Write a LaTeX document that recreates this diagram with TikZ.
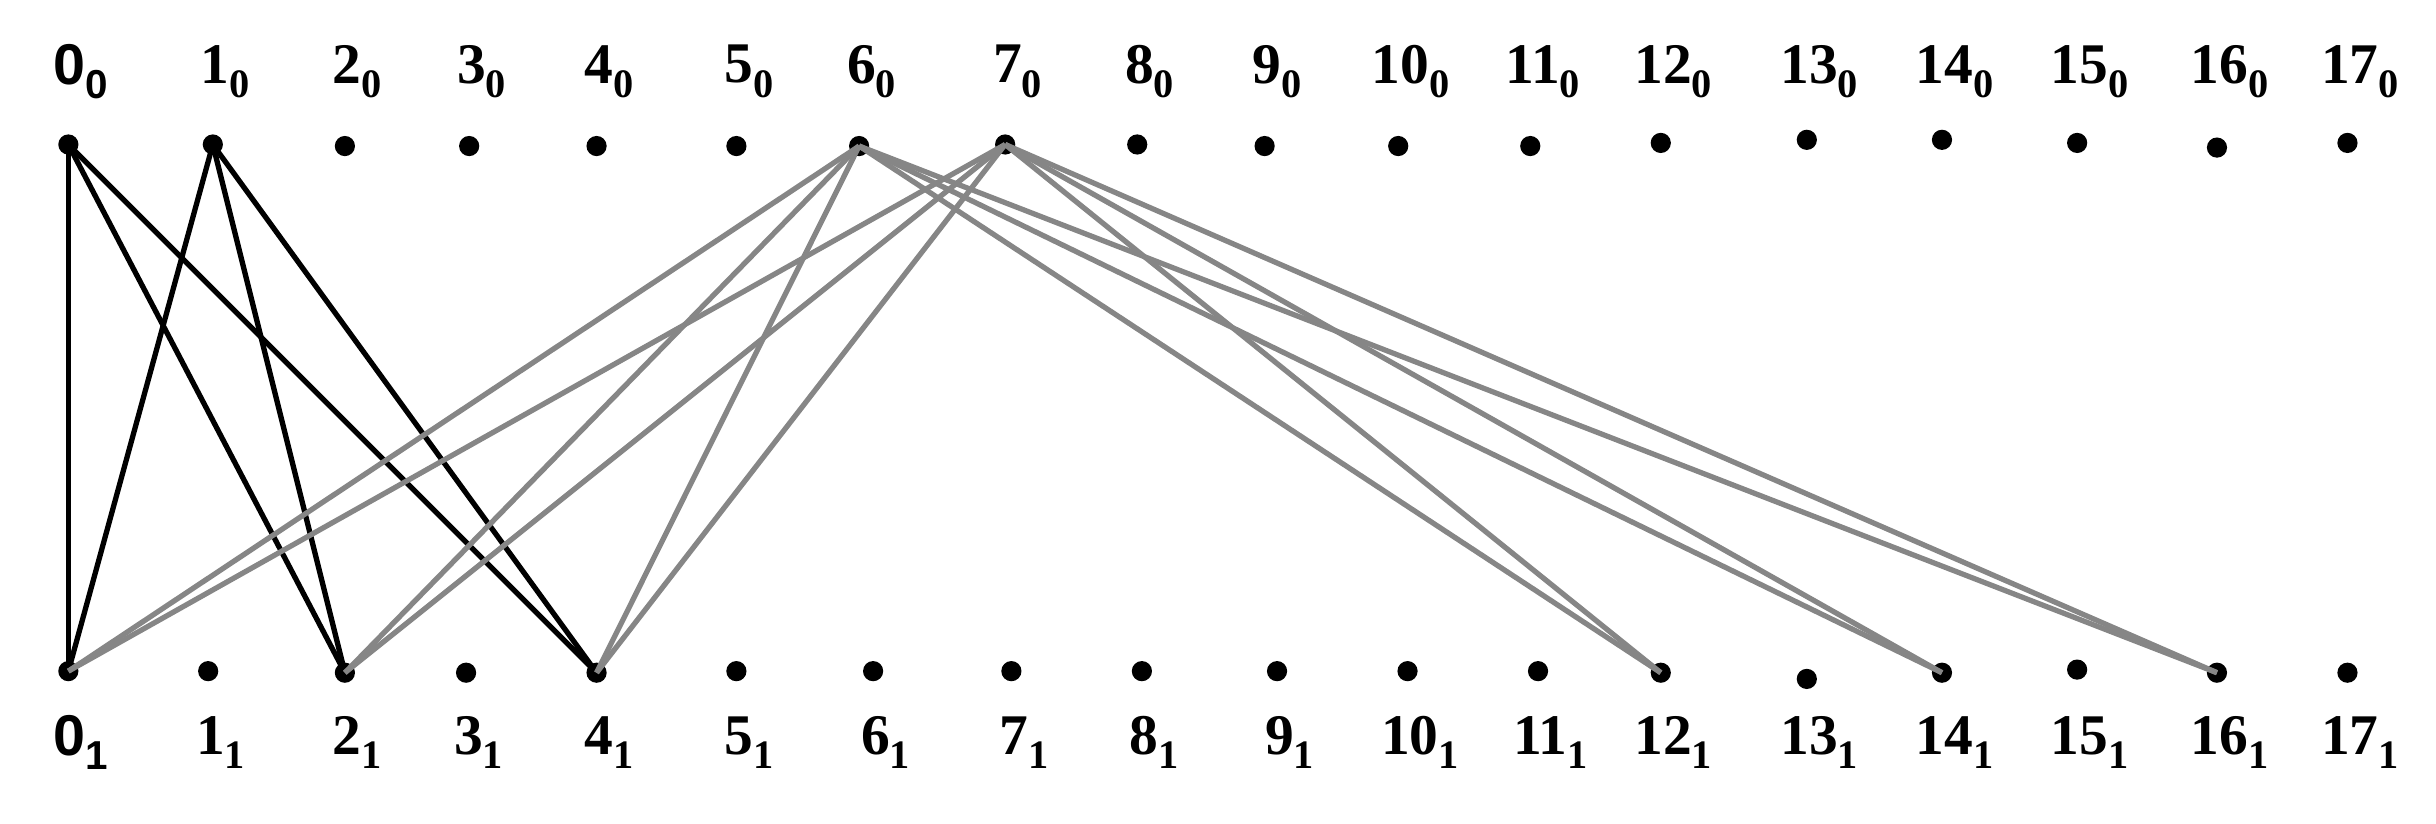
\documentclass[tikz,border=0pt]{standalone}
\usepackage{fontspec}
\setmainfont{Liberation Serif}
\newfontfamily\zsans{Liberation Sans}
\newcommand{\zsub}[1]{\raisebox{-0.25em}{\fontsize{26}{26}\selectfont #1}}
\begin{document}
\begin{tikzpicture}[x=1pt,y=-1pt,
  dot/.style={circle,fill=black,inner sep=0pt,minimum size=13pt},
  lab/.style={font=\fontsize{37}{37}\selectfont\bfseries},
  bl/.style={line width=3.4pt,black},
  gr/.style={line width=3.4pt,gray!95}]
\useasboundingbox (0,0) rectangle (1568,530);
\foreach \i/\x/\y in {0/44/93,1/137/93,2/222/94,3/302/94,4/384/94,5/474/94,6/553/94,7/647/93,8/732/93,9/814/94,10/900/94,11/985/94,12/1069/92,13/1163/90,14/1250/90,15/1337/92,16/1427/95,17/1511/92}{
  \node[dot] (t\i) at (\x,\y) {};
  \ifnum\i=0 \node[lab] at (\x+8,46) {\zsans 0\zsub{0}};
  \else \node[lab] at (\x+8,46) {\i\zsub{0}};\fi
}
\foreach \i/\x/\y in {0/44/432,1/134/432,2/222/433,3/300/433,4/384/433,5/474/432,6/562/432,7/651/432,8/735/432,9/822/432,10/906/432,11/990/432,12/1069/433,13/1163/437,14/1250/433,15/1337/431,16/1427/433,17/1511/433}{
  \node[dot] (b\i) at (\x,\y) {};
  \ifnum\i=0 \node[lab] at (\x+8,478) {\zsans 0\zsub{1}};
  \else \node[lab] at (\x+8,478) {\i\zsub{1}};\fi
}
\foreach \s in {0,1}{\foreach \e in {0,2,4}{\draw[bl] (t\s.center) -- (b\e.center);}}
\foreach \s in {6,7}{\foreach \e in {0,2,4,12,14,16}{\draw[gr] (t\s.center) -- (b\e.center);}}
\end{tikzpicture}
\end{document}
